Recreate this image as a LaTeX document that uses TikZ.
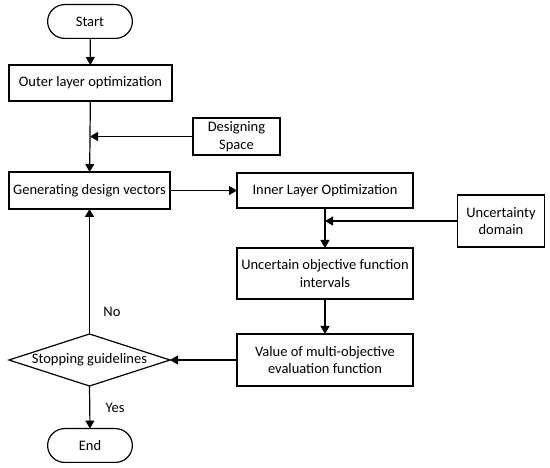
\documentclass[tikz,border=0pt]{standalone}
\usepackage{fontspec}
\setmainfont{Carlito}
\usepackage{tikz}
\usetikzlibrary{shapes.geometric,arrows.meta}

\begin{document}
\begin{tikzpicture}[x=1pt,y=-1pt,line width=1.2pt,>={Triangle[length=8pt,width=9pt]},
    every node/.style={font=\fontsize{14.5}{17.7}\selectfont, align=center, outer sep=0pt},
    box/.style={draw, rectangle, inner sep=2pt},
    term/.style={draw, rectangle, rounded corners=17pt, minimum width=86pt-\pgflinewidth, minimum height=35pt-\pgflinewidth},
    decide/.style={draw, diamond, aspect=3.1, inner sep=0pt, minimum width=161pt, minimum height=52pt}]
            \useasboundingbox (0,0) rectangle (550,468);
            \node[term] (start) at (90,21.5) {Start};
            \node[box, minimum width=163pt, minimum height=36pt] (outer) at (90.5,83) {Outer layer optimization};
            \node[box, minimum width=87pt, minimum height=37pt] (space) at (236.5,136.5) {Designing\\Space};
            \node[box, minimum width=161pt, minimum height=37pt] (gen) at (89.5,190.5) {Generating design vectors};
            \node[box, minimum width=176pt, minimum height=35pt] (inner) at (325,190.5) {Inner Layer Optimization};
            \node[box, minimum width=87pt, minimum height=52pt] (udomain) at (501,221) {Uncertainty\\domain};
            \node[box, minimum width=176pt, minimum height=51pt] (interval) at (325,273.5) {Uncertain objective function\\intervals};
            \node[box, minimum width=176pt, minimum height=52pt] (value) at (325,360) {Value of multi-objective\\evaluation function};
            \node[decide] (stop) at (89.5,360) {Stopping guidelines};
            \node[term] (end) at (90,445.5) {End};
            \node (no) at (112,312) {No};
            \node (yes) at (115,408) {Yes};
            \coordinate (jspace) at (90,136.5);
            \coordinate (jdomain) at (325,221);
            \draw[->] (start) -- (outer);
            \draw[->] (outer) -- (gen);
            \draw[->] (space) -- (jspace);
            \draw[->] (gen) -- (inner);
            \draw[->] (inner) -- (interval);
            \draw[->] (udomain) -- (jdomain);
            \draw[->] (interval) -- (value);
            \draw[->] (value) -- (stop);
            \draw[->] (stop.north) -- (gen.south);
            \draw[->] (stop.south) -- (end.north);
        \end{tikzpicture}
\end{document}
